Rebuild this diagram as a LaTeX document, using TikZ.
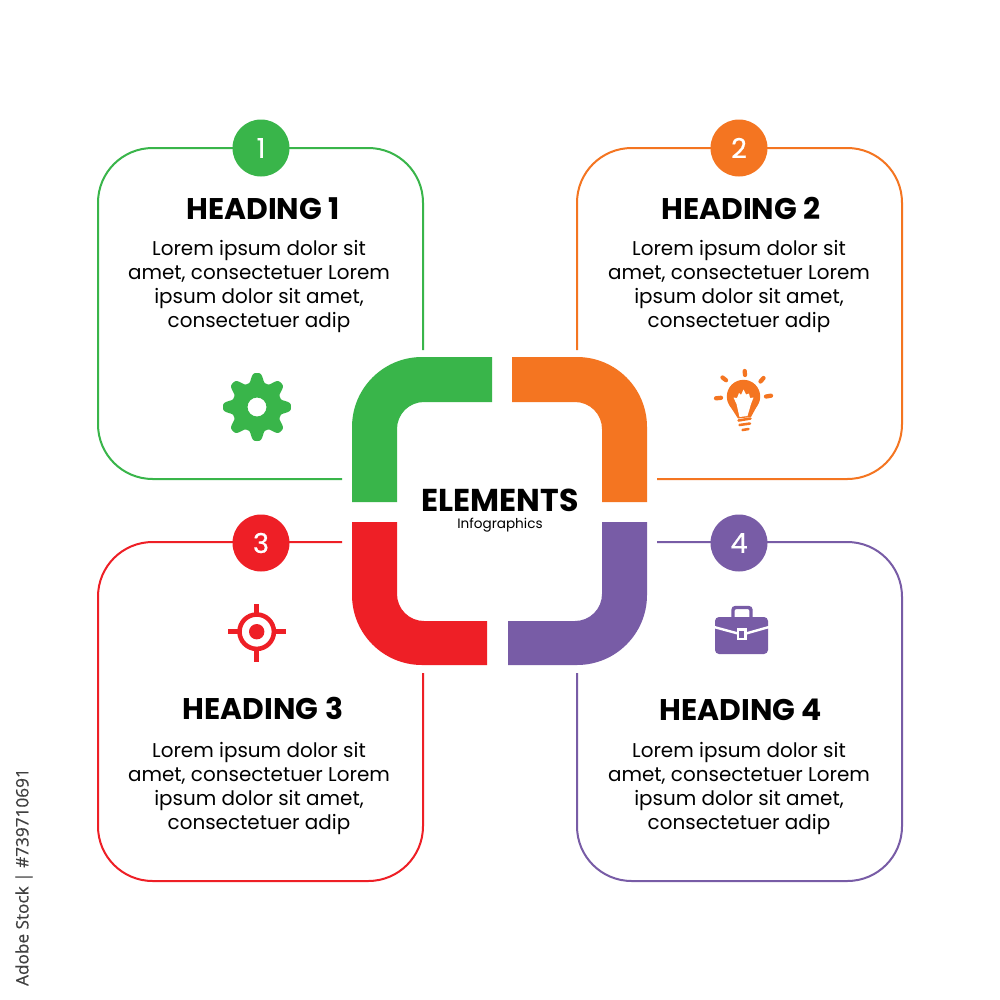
\documentclass[tikz,border=0pt]{standalone}
\usepackage{fontspec}
\setmainfont{Poppins}
\newfontfamily\sidefont[FakeBold=0.4]{Open Sans}
\newfontfamily\digitfont[FakeBold=0.5]{Poppins}
\definecolor{cgreen}{HTML}{39B54A}
\definecolor{corange}{HTML}{F47521}
\definecolor{cred}{HTML}{EE1F26}
\definecolor{cpurple}{HTML}{785CA6}
\tikzset{
  frame/.style={line width=1.5pt,rounded corners=41pt},
  badge/.style={circle,inner sep=0pt,minimum size=42.75pt,text=white,font=\digitfont\fontsize{20.5}{20.5}\selectfont},
  headtext/.style={font=\fontsize{22.4}{22.4}\bfseries\selectfont,text=black,inner sep=0pt,anchor=base},
  bodytext/.style={font=\fontsize{14.95}{18}\selectfont,text=black,align=center,inner sep=0pt},
  declare function={gearg(\t)=cos(8*\t); gearr(\t)=29.5+4.5*(1.5*gearg(\t)-0.5*gearg(\t)*gearg(\t)*gearg(\t));},
}
\begin{document}
\begin{tikzpicture}[x=0.75pt,y=-0.75pt]
\useasboundingbox (0,0) rectangle (1000,1000);
\fill[white] (0,0) rectangle (1000,1000);
% frames
\draw[frame,cgreen] (423,350) -- (423,148) -- (98,148) -- (98,479) -- (342,479);
\draw[frame,corange] (577,350) -- (577,148) -- (902,148) -- (902,479) -- (657,479);
\draw[frame,cred] (342,542) -- (98,542) -- (98,881) -- (423,881) -- (423,673);
\draw[frame,cpurple] (657,542) -- (902,542) -- (902,881) -- (577,881) -- (577,673);
% centre brackets
\fill[cgreen] (492,357) -- (422,357) .. controls (383.3,357) and (352,388.3) .. (352,427) -- (352,502) -- (397,502) -- (397,429) .. controls (397,414.1) and (409.1,402) .. (424,402) -- (492,402) -- cycle;
\fill[corange] (512,357) -- (577,357) .. controls (615.7,357) and (647,388.3) .. (647,427) -- (647,502) -- (602,502) -- (602,429) .. controls (602,414.1) and (589.9,402) .. (575,402) -- (512,402) -- cycle;
\fill[cred] (352,522) -- (352,595) .. controls (352,633.7) and (383.3,665) .. (422,665) -- (487,665) -- (487,621) -- (424,621) .. controls (409.1,621) and (397,608.9) .. (397,594) -- (397,522) -- cycle;
\fill[cpurple] (647,522) -- (647,595) .. controls (647,633.7) and (615.7,665) .. (577,665) -- (508,665) -- (508,621) -- (575,621) .. controls (589.9,621) and (602,608.9) .. (602,594) -- (602,522) -- cycle;
% badges
\node[badge,fill=cgreen] (b1) at (261,148) {1};
\node[badge,fill=corange] (b2) at (739,148) {2};
\node[badge,fill=cred] (b3) at (261,543) {3};
\node[badge,fill=cpurple] (b4) at (739,543) {4};
% headings
\node[headtext] (h1) at (263,219) {HEADING 1};
\node[headtext] (h2) at (741,219) {HEADING 2};
\node[headtext] (h3) at (263,719) {HEADING 3};
\node[headtext] (h4) at (741,720) {HEADING 4};
% body
\node[bodytext] (t1) at (259,287) {Lorem ipsum dolor sit\\amet, consectetuer Lorem\\ipsum dolor sit amet,\\consectetuer adip};
\node[bodytext] (t2) at (739,287) {Lorem ipsum dolor sit\\amet, consectetuer Lorem\\ipsum dolor sit amet,\\consectetuer adip};
\node[bodytext] (t3) at (259,788) {Lorem ipsum dolor sit\\amet, consectetuer Lorem\\ipsum dolor sit amet,\\consectetuer adip};
\node[bodytext] (t4) at (739,788) {Lorem ipsum dolor sit\\amet, consectetuer Lorem\\ipsum dolor sit amet,\\consectetuer adip};
% centre text
\node[inner sep=0pt,text depth=0pt,anchor=base,font=\fontsize{23.7}{23.7}\bfseries\selectfont] (title) at (500,511) {ELEMENTS};
\node[inner sep=0pt,anchor=base,font=\fontsize{10.2}{10.2}\selectfont] (sub) at (500,528) {Infographics};
% side text
\node[rotate=90,anchor=east,inner sep=0pt,text=black!75,font=\sidefont\fontsize{12.9}{12.9}\selectfont] (side) at (24,768) {Adobe Stock | \#739710691};
% gear
\fill[cgreen,even odd rule] plot[domain=0:360,samples=241,smooth] ({257+gearr(\x)*cos(\x)},{407+gearr(\x)*sin(\x)}) -- cycle (257,407) circle[radius=9.5];
% bulb
\fill[corange] (743.5,396.5) circle[radius=16.7];
\fill[corange] (730,406) -- (757,406) -- (751,417) -- (738,418.5) -- cycle;
\fill[white] (739.5,417) -- (736.5,404) -- (733.5,397.5) -- (737,398) -- (739,393) -- (741,395) -- (743.5,389.5) -- (746,394.5) -- (749,393.5) -- (750,398) -- (753.5,397.5) -- (751,404) -- (747.5,416) -- cycle;
\begin{scope}[line width=1.9pt,line cap=round,corange]
\draw (738.5,420.5) -- (750.5,418.5);
\draw (739.5,425) -- (750,423.5);
\draw (742.5,430) -- (748.5,429);
\end{scope}
\begin{scope}[line width=3.2pt,line cap=round,corange]
\draw (744.7,371) -- (745,375);
\draw (722.5,377.5) -- (726,380.2);
\draw (716,398.3) -- (721,397.8);
\draw (760.5,381.5) -- (763.5,378);
\draw (766,396.5) -- (771,395.7);
\end{scope}
% target
\draw[cred,line width=3.4pt] (256.7,631.7) circle[radius=17.2];
\fill[cred] (256.7,631.7) circle[radius=7.7];
\draw[cred,line width=3.4pt] (228,631.7) -- (239,631.7) (274.4,631.7) -- (286,631.7) (256.7,604) -- (256.7,614) (256.7,649.4) -- (256.7,662);
% briefcase
\fill[cpurple,rounded corners=3pt] (715,617) rectangle (768,654);
\draw[cpurple,line width=2.6pt,rounded corners=2pt] (733,618) -- (733,607.5) -- (751,607.5) -- (751,618);
\draw[white,line width=1.8pt] (714,627) -- (738,633.5) (746,633.5) -- (769,627);
\fill[white] (736.5,628) rectangle (747,640);
\fill[cpurple] (739.3,630.7) rectangle (744.2,637.5);
\end{tikzpicture}
\end{document}
